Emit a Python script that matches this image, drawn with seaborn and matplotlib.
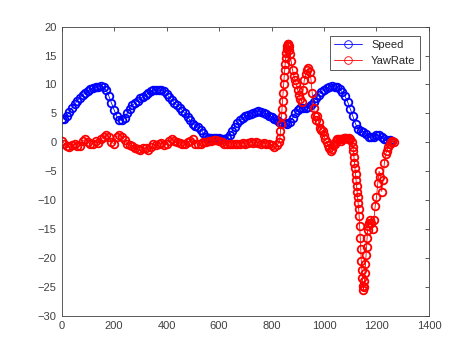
import numpy as np
import pandas as pd
import matplotlib
matplotlib.use('Agg')
import matplotlib.pyplot as plt
import seaborn as sns

# speed, read every 10 samples
speed_x = list(range(0, 1270, 10))
speed = [4.0, 4.1, 4.6, 5.3, 6.0, 6.6, 7.2, 7.7, 8.2, 8.6,
         8.9, 9.2, 9.4, 9.5, 9.6, 9.7, 9.6, 9.0, 8.0, 6.8,
         5.6, 4.5, 3.9, 3.8, 4.2, 5.0, 5.8, 6.4, 6.8, 7.2,
         7.6, 7.9, 8.2, 8.5, 8.8, 9.0, 9.0, 9.0, 9.0, 8.9,
         8.4, 7.8, 7.3, 6.8, 6.4, 6.0, 5.5, 5.0, 4.4, 3.8,
         3.2, 2.9, 2.6, 2.2, 1.6, 1.0, 0.8, 0.8, 0.8, 0.8,
         0.7, 0.6, 0.6, 0.8, 1.3, 2.0, 2.7, 3.3, 3.8, 4.2,
         4.5, 4.7, 4.9, 5.1, 5.3, 5.4, 5.3, 5.1, 4.9, 4.6,
         4.3, 4.0, 3.8, 3.6, 3.4, 3.3, 3.2, 3.5, 4.2, 5.0,
         5.6, 5.9, 6.0, 6.0, 6.1, 6.4, 7.0, 7.6, 8.2, 8.7,
         9.1, 9.4, 9.6, 9.7, 9.6, 9.5, 9.2, 8.7, 8.0, 7.0,
         5.8, 4.5, 3.2, 2.3, 2.0, 1.8, 1.4, 1.0, 0.9, 1.0,
         1.2, 1.3, 1.0, 0.6, 0.4, 0.4, 0.3]

# yaw rate, read more densely where it moves fast
yaw_x = (list(range(0, 830, 10)) + list(range(830, 872, 2)) +
         list(range(875, 1111, 5)) + list(range(1112, 1172, 2)) +
         list(range(1175, 1266, 5)))
yaw = [0.3, -0.2, -0.6, -0.8, -0.4, -0.2, -0.7, -0.6, 0.3, 0.5,
       0.0, -0.3, -0.2, 0.2, -0.1, 0.5, 1.0, 1.3, 1.0, 0.0,
       -0.2, 1.0, 1.3, 1.0, 0.4, -0.3, -0.5, -0.6, -0.9, -1.2,
       -1.4, -0.9, -1.0, -1.3, -0.8, -0.3, -0.4, -0.2, -0.1, -0.4,
       -0.2, 0.3, 0.5, 0.2, 0.0, -0.1, -0.3, -0.2, 0.0, 0.3,
       0.6, -0.2, -0.3, -0.2, 0.0, 0.1, 0.2, 0.3, 0.4, 0.4,
       0.2, 0.0, -0.2, -0.3, -0.3, -0.3, -0.2, -0.3, -0.2, -0.1,
       -0.2, -0.1, 0.0, -0.1, 0.0, -0.1, -0.2, -0.1, -0.2, -0.3,
       -0.5, -0.8, -0.4,
       # 830-870
       0.0, 0.8, 2.0, 3.2, 4.5, 5.8, 7.2, 8.6, 10.0, 11.3,
       12.5, 13.6, 14.6, 15.5, 16.2, 16.7, 17.0, 17.0, 16.6, 16.0,
       15.3,
       # 875-1110
       14.0, 12.5, 11.5, 10.8, 10.0, 9.0, 8.2, 7.5, 7.0, 9.0,
       10.8, 11.8, 12.5, 12.8, 12.2, 11.0, 8.5, 6.0, 4.5, 3.8,
       4.5, 3.5, 2.5, 2.2, 2.0, 1.2, 0.5, 0.0, -0.5, -1.0,
       -1.5, -1.2, -0.5, -0.2, 0.2, 0.5, 0.6, 0.5, 0.3, 0.6,
       0.8, 0.8, 0.7, 0.6, 0.8, 0.6, 0.0, -0.8,
       # 1112-1170
       -1.5, -2.5, -3.5, -4.5, -5.5, -6.5, -7.5, -8.5, -9.5, -10.5,
       -11.5, -12.8, -14.5, -16.5, -18.5, -20.5, -22.0, -23.5, -24.8, -25.5,
       -25.0, -24.0, -22.5, -21.0, -19.5, -18.0, -16.5, -15.2, -14.5, -14.0,
       # 1175-1265
       -13.5, -14.0, -15.0, -13.5, -11.0, -9.5, -7.0, -5.0, -6.0, -8.5,
       -6.5, -3.5, -2.0, -1.5, -0.8, -0.3, 0.0, 0.2, 0.1]

xticks = [0, 200, 400, 600, 800, 1000, 1200, 1400]
yticks = [-30, -25, -20, -15, -10, -5, 0, 5, 10, 15, 20]

sns.set_style('white')
plt.rcParams['font.family'] = ['Liberation Sans', 'DejaVu Sans']

fig = plt.figure(figsize=(4.74, 3.55), dpi=100)
ax = fig.add_axes([0.13, 0.11, 0.775, 0.815])

style = dict(marker='o', markersize=5.5, markerfacecolor='none',
             markeredgewidth=1.3, linewidth=0.6, estimator=None, sort=False)
sns.lineplot(x=speed_x, y=speed, color='blue', markeredgecolor='blue',
             label='Speed', ax=ax, **style)
sns.lineplot(x=yaw_x, y=yaw, color='red', markeredgecolor='red',
             label='YawRate', ax=ax, **style)

ax.set_xlim(0, 1400)
ax.set_ylim(-30, 20)
ax.set_xticks(xticks)
ax.set_yticks(yticks)
ax.tick_params(direction='in', length=3, width=0.6, colors='#404040',
               labelsize=8, top=True, right=True, labeltop=False, labelright=False)
for s in ax.spines.values():
    s.set_color('#404040')
    s.set_linewidth(0.6)

leg = ax.legend(loc='upper right', fontsize=8, frameon=True, fancybox=False,
                edgecolor='#404040', framealpha=1, borderaxespad=0.8,
                handlelength=2.5)
leg.get_frame().set_linewidth(0.6)
for h in leg.get_lines():
    h.set_markeredgewidth(0.6)

fig.savefig('out.png', dpi=100)
